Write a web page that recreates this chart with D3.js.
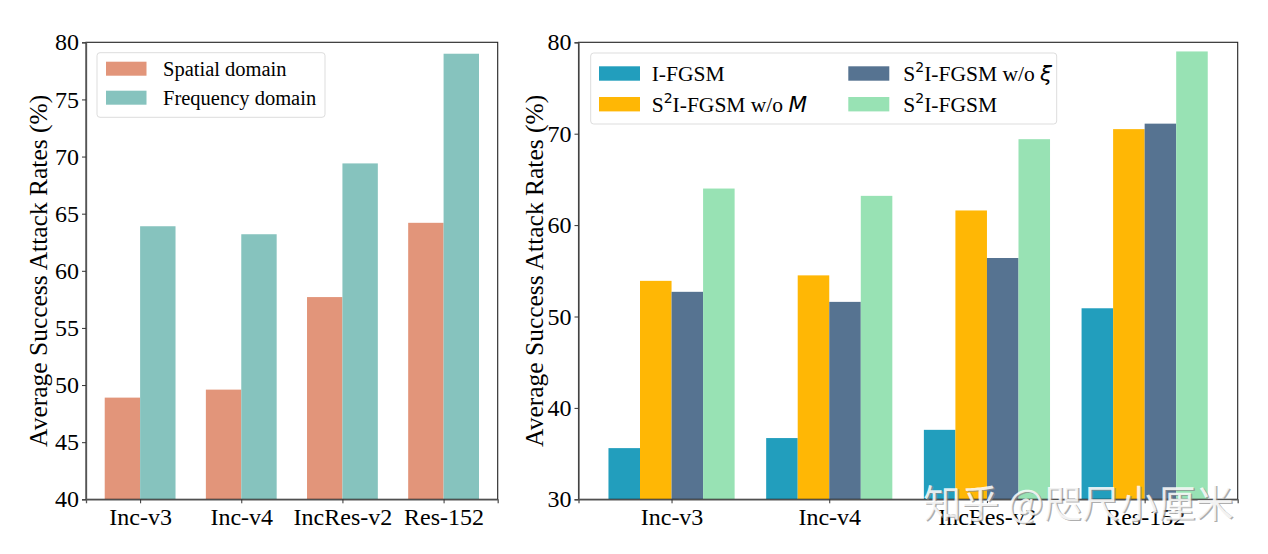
<!DOCTYPE html>
<html>
<head>
<meta charset="utf-8">
<script src="https://cdn.jsdelivr.net/npm/d3@7"></script>
<style>
  body { margin: 0; background: #fff; }
  svg { display: block; }
  .tick text { font-family: "Liberation Serif", "Times New Roman", serif; }
</style>
</head>
<body>
<div id="chart"></div>
<script>
//----------------------------
// Data
//----------------------------
var models = ["Inc-v3", "Inc-v4", "IncRes-v2", "Res-152"];

// left panel
var spatial = [48.9, 49.6, 57.7, 64.2];
var frequency = [63.9, 63.2, 69.4, 79.0];
var leftTicks = [40, 45, 50, 55, 60, 65, 70, 75, 80];

// right panel
var iFgsm = [35.6, 36.7, 37.6, 50.9];
var s2NoM = [53.9, 54.5, 61.6, 70.5];
var s2NoXi = [52.7, 51.6, 56.4, 71.1];
var s2Full = [64.0, 63.2, 69.4, 79.0];
var rightTicks = [30, 40, 50, 60, 70, 80];

var W = 1268, H = 554;
var serif = '"Liberation Serif", "Times New Roman", serif';
var sans = '"DejaVu Sans", sans-serif';

var svg = d3.select("#chart")
    .append("svg")
    .attr("width", W)
    .attr("height", H);

svg.append("rect").attr("width", W).attr("height", H).attr("fill", "#fff");

//----------------------------
// Panel helper
//----------------------------
function panel(opts) {
    var x = d3.scaleLinear().domain(opts.xDomain).range([opts.left, opts.right]);
    var y = d3.scaleLinear().domain(opts.yDomain).range([opts.bottom, opts.top]);

    var g = svg.append("g");

    // bars
    opts.series.forEach(function (s, k) {
        g.selectAll(null)
            .data(s.values)
            .enter()
            .append("rect")
            .attr("x", (d, i) => x(i + opts.offsets[k]))
            .attr("width", x(opts.barW) - x(0))
            .attr("y", d => y(d))
            .attr("height", d => y(opts.yDomain[0]) - y(d))
            .attr("fill", s.color);
    });

    // frame
    g.append("rect")
        .attr("x", opts.left).attr("y", opts.top)
        .attr("width", opts.right - opts.left)
        .attr("height", opts.bottom - opts.top)
        .attr("fill", "none")
        .attr("stroke", "#222")
        .attr("stroke-width", 1.1);

    // axes
    var ya = g.append("g")
        .attr("transform", "translate(" + opts.left + ",0)")
        .call(d3.axisLeft(y).tickValues(opts.yTicks).tickSize(4).tickPadding(3).tickFormat(d3.format("d")));
    ya.select(".domain").attr("stroke", "#555").attr("stroke-width", 1.3);
    ya.selectAll(".tick line").attr("stroke", "#333");
    ya.selectAll(".tick text").attr("font-size", 24).attr("fill", "#000");

    var xa = g.append("g")
        .attr("transform", "translate(0," + opts.bottom + ")")
        .call(d3.axisBottom(x).tickValues(d3.range(models.length)).tickSize(4).tickPadding(5)
            .tickFormat(i => models[i]));
    xa.select(".domain").attr("stroke", "#555").attr("stroke-width", 1.3);
    xa.selectAll(".tick line").attr("stroke", "#333");
    xa.selectAll(".tick text").attr("font-size", 24).attr("fill", "#000");

    // y label
    g.append("text")
        .attr("transform", "translate(" + opts.labelX + "," + ((opts.top + opts.bottom) / 2) + ") rotate(-90)")
        .attr("text-anchor", "middle")
        .attr("dominant-baseline", "central")
        .attr("font-family", serif)
        .attr("font-size", 25.5)
        .text("Average Success Attack Rates (%)");

    return g;
}

//----------------------------
// Left panel
//----------------------------
var leftG = panel({
    left: 86, right: 497.7, top: 42.3, bottom: 499.3,
    xDomain: [-0.535, 3.535], yDomain: [40, 80], yTicks: leftTicks,
    barW: 0.35, offsets: [-0.35, 0],
    labelX: 38,
    series: [
        { values: spatial, color: "#E2957A" },
        { values: frequency, color: "#86C3BE" }
    ]
});

// legend
leftG.append("rect")
    .attr("x", 97).attr("y", 52.7).attr("width", 228).attr("height", 64.6)
    .attr("rx", 3).attr("fill", "#fff").attr("fill-opacity", 0.85)
    .attr("stroke", "#ddd");
[["Spatial domain", "#E2957A"], ["Frequency domain", "#86C3BE"]].forEach(function (e, i) {
    var cy = 68.7 + i * 29;
    leftG.append("rect").attr("x", 106).attr("y", cy - 7).attr("width", 40.5).attr("height", 14).attr("fill", e[1]);
    leftG.append("text").attr("x", 163).attr("y", cy)
        .attr("dominant-baseline", "central")
        .attr("font-family", serif).attr("font-size", 20.5)
        .text(e[0]);
});

//----------------------------
// Right panel
//----------------------------
var rightColors = ["#229EBD", "#FFB705", "#567391", "#98E2B4"];
var rightG = panel({
    left: 578.5, right: 1237.7, top: 42.3, bottom: 499.3,
    xDomain: [-0.59, 3.59], yDomain: [30, 80], yTicks: rightTicks,
    barW: 0.2, offsets: [-0.4, -0.2, 0, 0.2],
    labelX: 534,
    series: [
        { values: iFgsm, color: rightColors[0] },
        { values: s2NoM, color: rightColors[1] },
        { values: s2NoXi, color: rightColors[2] },
        { values: s2Full, color: rightColors[3] }
    ]
});

rightG.append("rect")
    .attr("x", 590.7).attr("y", 53).attr("width", 466).attr("height", 71)
    .attr("rx", 3).attr("fill", "#fff").attr("fill-opacity", 0.85)
    .attr("stroke", "#ddd");

// legend labels: [plain, sup, rest, italic]
var rightLegend = [
    { parts: ["I-FGSM", "", "", ""], col: 0, row: 0 },
    { parts: ["S", "2", "I-FGSM w/o ", "M"], col: 0, row: 1 },
    { parts: ["S", "2", "I-FGSM w/o ", "\u03BE"], col: 1, row: 0 },
    { parts: ["S", "2", "I-FGSM", ""], col: 1, row: 1 }
];
rightLegend.forEach(function (e, i) {
    var px = e.col ? 848.3 : 599;
    var tx = e.col ? 903.3 : 651.7;
    var cy = 73.5 + e.row * 30.7;
    rightG.append("rect").attr("x", px).attr("y", cy - 7.2).attr("width", 41).attr("height", 14.4)
        .attr("fill", rightColors[i]);
    var t = rightG.append("text").attr("x", tx).attr("y", cy + 7.3)
        .attr("font-family", serif).attr("font-size", 21.5);
    t.append("tspan").text(e.parts[0]);
    if (e.parts[1]) {
        t.append("tspan").attr("font-family", sans).attr("font-size", 14).attr("dy", -9).text(e.parts[1]);
        t.append("tspan").attr("dy", 9).text(e.parts[2]);
    }
    if (e.parts[3]) {
        t.append("tspan").attr("font-family", sans).attr("font-style", "italic").text(e.parts[3]);
    }
});

//----------------------------
// Watermark
//----------------------------
var wm = "知乎 @咫尺小厘米";
svg.append("text").attr("x", 924.5).attr("y", 518)
    .attr("font-family", '"Noto Sans CJK SC", sans-serif').attr("font-size", 38)
    .attr("fill", "#8a8a8a").attr("fill-opacity", 0.7).text(wm);
svg.append("text").attr("x", 923).attr("y", 516.5)
    .attr("font-family", '"Noto Sans CJK SC", sans-serif').attr("font-size", 38)
    .attr("fill", "#fff").attr("fill-opacity", 0.85).text(wm);
</script>
</body>
</html>
